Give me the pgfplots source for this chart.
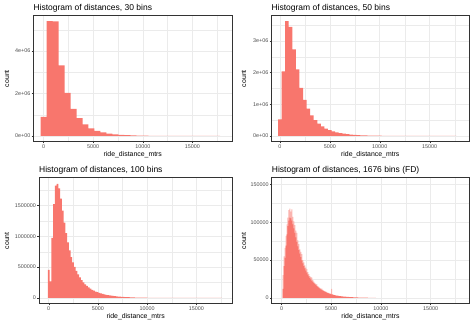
\documentclass[border=0pt]{standalone}
\usepackage{fontspec}
\setmainfont{Liberation Sans}
\usepackage{pgfplots}
\pgfplotsset{compat=1.18}
\definecolor{histred}{HTML}{F8766D}
\definecolor{gridgray}{HTML}{EBEBEB}
\definecolor{framegray}{HTML}{333333}
\definecolor{ticktext}{HTML}{4D4D4D}
\pgfplotsset{
 hist/.style={
  scale only axis,
  axis line style={draw=framegray, line width=0.5pt},
  grid=both,
  major grid style={draw=gridgray, line width=0.5pt},
  minor grid style={draw=gridgray, line width=0.25pt},
  tick align=outside,
  major tick length=1.6pt,
  minor tick length=0pt,
  tick pos=left,
  tick style={draw=framegray, line width=0.4pt},
  scaled ticks=false,
  xtick={0,5000,10000,15000},
  xticklabels={0,5000,10000,15000},
  minor xtick={2500,7500,12500,17500},
  ticklabel style={font=\fontsize{5.4}{6.5}\selectfont, text=ticktext, inner sep=0pt},
  xticklabel style={anchor=north, yshift=-1.1pt},
  yticklabel style={anchor=east, xshift=-1.2pt},
  xlabel={ride\_distance\_mtrs},
  ylabel={count},
  xlabel style={at={(axis description cs:0.5,0)}, anchor=north, yshift=-9.6pt, inner sep=0pt, font=\fontsize{6.9}{8}\selectfont},
  ylabel style={anchor=south, inner sep=0pt, font=\fontsize{6.9}{8}\selectfont},
  title style={at={(axis description cs:0,1)}, anchor=base west, yshift=-0.8pt, inner sep=0pt, font=\fontsize{8.5}{10}\selectfont},
  histfill/.style={const plot, fill=histred, draw=none},
 }
}
\begin{document}
\begin{tikzpicture}
\useasboundingbox (0,0) rectangle (474pt,325pt);
% ---------------- Panel 1: 30 bins
\begin{axis}[hist, at={(33.3pt,183.3pt)}, anchor=south west, width=199pt, height=126.2pt,
 xmin=-1040, xmax=19020, ymin=-270500, ymax=5680500,
 ytick={0,2000000,4000000}, yticklabels={0e+00,2e+06,4e+06},
 minor ytick={1000000,3000000,5000000},
 title={Histogram of distances, 30 bins},
 ylabel style={at={([xshift=-24pt]axis description cs:0,0.5)}}]
\addplot[histfill] coordinates {
(-301.5,900000) (301.5,5410000) (904.5,5400000) (1507.5,3330000) (2110.5,2030000)
(2713.5,1280000) (3316.5,840000) (3919.5,550000) (4522.5,360000) (5125.5,245000)
(5728.5,165000) (6331.5,112000) (6934.5,77000) (7537.5,53000) (8140.5,37000)
(8743.5,26000) (9346.5,18000) (9949.5,12500) (10552.5,9000) (11155.5,6400)
(11758.5,4500) (12361.5,3200) (12964.5,2200) (13567.5,1500) (14170.5,1000)
(14773.5,700) (15376.5,480) (15979.5,330) (16582.5,230) (17185.5,160) (17788.5,0)} \closedcycle;
\end{axis}
% ---------------- Panel 2: 50 bins
\begin{axis}[hist, at={(271.3pt,183.3pt)}, anchor=south west, width=198pt, height=126.2pt,
 xmin=-850, xmax=18960, ymin=-181000, ymax=3801000,
 ytick={0,1000000,2000000,3000000}, yticklabels={0e+00,1e+06,2e+06,3e+06},
 minor ytick={500000,1500000,2500000,3500000},
 title={Histogram of distances, 50 bins},
 ylabel style={at={([xshift=-25pt]axis description cs:0,0.5)}}]
\addplot[histfill] coordinates {
(-178.6,520000) (178.6,2040000) (535.7,3620000) (892.9,3440000) (1250.0,2730000)
(1607.1,2100000) (1964.3,1520000) (2321.4,1140000) (2678.6,860000) (3035.7,650000)
(3392.9,500000) (3750.0,390000) (4107.1,300000) (4464.3,235000) (4821.4,185000)
(5178.6,145000) (5535.7,115000) (5892.9,90000) (6250.0,71000) (6607.1,56000)
(6964.3,44000) (7321.4,35000) (7678.6,28000) (8035.7,22000) (8392.9,17500)
(8750.0,14000) (9107.1,11000) (9464.3,8800) (9821.4,7000) (10178.6,5600)
(10535.7,4500) (10892.9,3600) (11250.0,2900) (11607.1,2300) (11964.3,1800)
(12321.4,1400) (12678.6,1100) (13035.7,900) (13392.9,700) (13750.0,550)
(14107.1,450) (14464.3,360) (14821.4,290) (15178.6,230) (15535.7,180)
(15892.9,140) (16250.0,110) (16607.1,90) (16964.3,70) (17321.4,60) (17678.6,0)} \closedcycle;
\end{axis}
% ---------------- Panel 3: 100 bins
\begin{axis}[hist, at={(39pt,21.3pt)}, anchor=south west, width=193.3pt, height=126pt,
 xmin=-990, xmax=18640, ymin=-92750, ymax=1948000,
 ytick={0,500000,1000000,1500000}, yticklabels={0,500000,1000000,1500000},
 minor ytick={250000,750000,1250000,1750000},
 title={Histogram of distances, 100 bins},
 ylabel style={at={([xshift=-29.7pt]axis description cs:0,0.5)}}]
\addplot[histfill] coordinates {
(-88.4,455000) (88.4,270000) (265.1,972000) (441.9,1520000) (618.7,1821000)
(795.5,1847000) (972.2,1777000) (1149.0,1609000) (1325.8,1414000) (1502.5,1220000)
(1679.3,1052000) (1856.1,902000) (2032.8,769000) (2209.6,663000) (2386.4,575000)
(2563.2,504000) (2739.9,438000) (2916.7,382000) (3093.5,332000) (3270.2,290000)
(3447.0,253000) (3623.8,221000) (3800.5,194000) (3977.3,171000) (4154.1,150000)
(4330.9,133000) (4507.6,118000) (4684.4,104000) (4861.2,93000) (5037.9,82000)
(5214.7,73000) (5391.5,65000) (5568.2,58000) (5745.0,52000) (5921.8,46500)
(6098.6,41500) (6275.3,37000) (6452.1,33000) (6628.9,29500) (6805.6,26300)
(6982.4,23500) (7159.2,20900) (7335.9,18600) (7512.7,16600) (7689.5,14800)
(7866.3,13300) (8043.0,11800) (8219.8,10600) (8396.6,9400) (8573.3,8300)
(8750.1,7400) (8926.9,6600) (9103.6,5900) (9280.4,5300) (9457.2,4700)
(9634.0,4150) (9810.7,3700) (9987.5,3300) (10164.3,2950) (10341.0,2600)
(10517.8,2330) (10694.6,2090) (10871.3,1860) (11048.1,1640) (11224.9,1470)
(11401.7,1310) (11578.4,1170) (11755.2,1040) (11932.0,920) (12108.7,820)
(12285.5,730) (12462.3,650) (12639.0,575) (12815.8,510) (12992.6,460)
(13169.4,410) (13346.1,360) (13522.9,320) (13699.7,290) (13876.4,255)
(14053.2,230) (14230.0,205) (14406.7,180) (14583.5,160) (14760.3,140)
(14937.1,125) (15113.8,110) (15290.6,100) (15467.4,90) (15644.1,80)
(15820.9,70) (15997.7,62) (16174.4,55) (16351.2,50) (16528.0,44)
(16704.8,39) (16881.5,35) (17058.3,31) (17235.1,28) (17411.8,25) (17588.6,0)} \closedcycle;
\end{axis}
% ---------------- Panel 4: 1676 bins (FD)
\begin{axis}[hist, at={(271.7pt,21.3pt)}, anchor=south west, width=197.6pt, height=126pt,
 xmin=-990, xmax=18900, ymin=-7560, ymax=158760,
 ytick={0,50000,100000,150000}, yticklabels={0,50000,100000,150000},
 minor ytick={25000,75000,125000},
 title={Histogram of distances, 1676 bins (FD)},
 ylabel style={at={([xshift=-25.4pt]axis description cs:0,0.5)}}]
% upper envelope of the narrow bins (drawn light)
\addplot[const plot, fill=histred!55!white, draw=none] coordinates {
(100,30000) (200,55000) (300,66000) (400,82000) (500,97000) (600,106000)
(700,116000) (800,118000) (900,114000) (1000,117000) (1100,107000) (1200,101000)
(1300,96000) (1400,89000) (1500,86000) (1600,76000) (1700,71000) (1800,64000)
(1900,61000) (2000,58000) (2100,50000) (2200,47000) (2300,43000) (2400,40000)
(2500,38000) (2600,34000) (2700,31500) (2800,29000) (2900,27500) (3000,27000)
(3100,23500) (3200,21500) (3300,20000) (3400,18500) (3500,18000) (3600,15800)
(3700,14600) (3800,13400) (3900,12500) (4000,12200) (4100,10600) (4200,9800)
(4300,9000) (4400,8400) (4500,8100) (4600,7100) (4700,6600) (4800,6100)
(4900,5700) (5000,12000) (5100,4900) (5200,0)} \closedcycle;
\addplot[histfill] coordinates {
(100,12000) (200,42000) (300,53000) (400,69000) (500,84000) (600,95000)
(700,102000) (800,106000) (900,105000) (1000,102000) (1100,97000) (1200,92000)
(1300,86000) (1400,80000) (1500,74000) (1600,68000) (1700,63000) (1800,58500)
(1900,54000) (2000,49500) (2100,45800) (2200,42200) (2300,39000) (2400,36000)
(2500,33300) (2600,30800) (2700,28400) (2800,26300) (2900,24500) (3000,22600)
(3100,21300) (3200,19700) (3300,18200) (3400,16800) (3500,15500) (3600,14300)
(3700,13200) (3800,12200) (3900,11300) (4000,10400) (4100,9600) (4200,8900)
(4300,8200) (4400,7600) (4500,7000) (4600,6500) (4700,6000) (4800,5550)
(4900,5150) (5000,4750) (5100,4400) (5200,4080) (5300,3780) (5400,3500)
(5500,3250) (5600,3010) (5700,2790) (5800,2590) (5900,2400) (6000,2230)
(6100,2070) (6200,1920) (6300,1780) (6400,1650) (6500,1530) (6600,1420)
(6700,1320) (6800,1220) (6900,1130) (7000,1050) (7100,975) (7200,905)
(7300,840) (7400,780) (7500,725) (7600,675) (7700,625) (7800,580)
(7900,540) (8000,500) (8100,465) (8200,430) (8300,400) (8400,372)
(8500,345) (8600,320) (8700,298) (8800,277) (8900,257) (9000,239)
(9100,222) (9200,206) (9300,192) (9400,178) (9500,0)} \closedcycle;
\end{axis}
\end{tikzpicture}
\end{document}
